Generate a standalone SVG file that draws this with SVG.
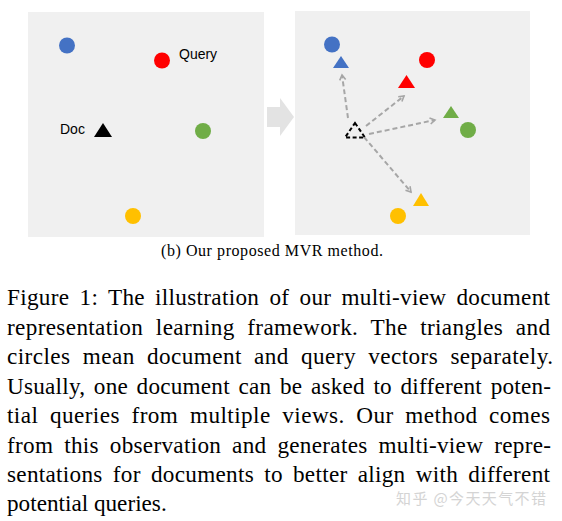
<svg xmlns="http://www.w3.org/2000/svg" width="562" height="521" viewBox="0 0 562 521">
<defs>
<style>
.panel{fill:#f0f0f0}
.lbl{font-family:"Liberation Sans",Arial,sans-serif;font-size:14px;fill:#000}
.cap{font-family:"Liberation Serif","Times New Roman",serif;fill:#000}
.body{font-size:23.2px}
.conn{stroke:#a6a6a6;stroke-width:2;stroke-dasharray:5 3;fill:none}
.blue{fill:#4472c4}.red{fill:#ff0000}.green{fill:#70ad47}.yellow{fill:#ffc000}
</style>
<marker id="ah" markerUnits="userSpaceOnUse" markerWidth="10" markerHeight="10" refX="6" refY="4" orient="auto">
<path d="M1,1 L6,4 L1,7" fill="none" stroke="#a6a6a6" stroke-width="1.6"/>
</marker>
</defs>
<rect width="562" height="521" fill="#fff"/>

<g id="panel-left">
<rect class="panel" x="28" y="12" width="236" height="225"/>
</g>
<g id="panel-right">
<rect class="panel" x="295" y="11" width="235" height="224"/>
</g>
<g id="transition-arrow">
<path d="M267,107 H280 V98 L294,117 L280,136 V127 H267 Z" fill="#e3e3e3"/>
</g>

<g id="left-blue-query"><circle class="blue" cx="67" cy="45.5" r="8"/></g>
<g id="left-red-query"><circle class="red" cx="162" cy="60.5" r="8"/><text class="lbl" x="179" y="59">Query</text></g>
<g id="left-doc"><text class="lbl" x="60" y="134">Doc</text><polygon points="103,123 112,137 94,137" fill="#000"/></g>
<g id="left-green-query"><circle class="green" cx="203" cy="131" r="8"/></g>
<g id="left-yellow-query"><circle class="yellow" cx="133" cy="216" r="8"/></g>

<g id="connectors">
<line class="conn" x1="348" y1="118" x2="342" y2="75" marker-end="url(#ah)"/>
<line class="conn" x1="366" y1="126" x2="404" y2="96" marker-end="url(#ah)"/>
<line class="conn" x1="369" y1="134" x2="435" y2="120" marker-end="url(#ah)"/>
<line class="conn" x1="364" y1="137" x2="411" y2="192" marker-end="url(#ah)"/>
</g>

<g id="right-doc-origin"><polygon points="355,123 365,137.5 345,137.5" fill="none" stroke="#000" stroke-width="2" stroke-dasharray="4 2.5"/></g>
<g id="right-blue"><circle class="blue" cx="332" cy="44.5" r="8"/><polygon class="blue" points="341,56 349,68 333,68"/></g>
<g id="right-red"><circle class="red" cx="427" cy="60" r="8"/><polygon class="red" points="406.5,75 415,88 398,88"/></g>
<g id="right-green"><circle class="green" cx="468" cy="130" r="8"/><polygon class="green" points="451,106 459,118 443,118"/></g>
<g id="right-yellow"><circle class="yellow" cx="398" cy="216" r="8"/><polygon class="yellow" points="421,193 429,206 413,206"/></g>

<text class="cap" x="161" y="256" font-size="16" textLength="222" lengthAdjust="spacing">(b) Our proposed MVR method.</text>

<g class="cap body">
<text x="7" y="305" word-spacing="4.1" textLength="543" lengthAdjust="spacing">Figure 1: The illustration of our multi-view document</text>
<text x="7" y="334.5" word-spacing="6.5" textLength="543" lengthAdjust="spacing">representation learning framework. The triangles and</text>
<text x="7" y="364" word-spacing="6" textLength="546" lengthAdjust="spacing">circles mean document and query vectors separately.</text>
<text x="7" y="393.5" word-spacing="2.6" textLength="544" lengthAdjust="spacing">Usually, one document can be asked to different poten-</text>
<text x="7" y="423" word-spacing="5.4" textLength="543" lengthAdjust="spacing">tial queries from multiple views. Our method comes</text>
<text x="7" y="452.5" word-spacing="4.8" textLength="544" lengthAdjust="spacing">from this observation and generates multi-view repre-</text>
<text x="7" y="482" word-spacing="4.1" textLength="543" lengthAdjust="spacing">sentations for documents to better align with different</text>
<text x="7" y="511">potential queries.</text>
</g>
<text x="396" y="504" font-family="'Noto Sans CJK SC',sans-serif" font-size="15" fill="#d4d4d4" textLength="150" lengthAdjust="spacing">知乎 @今天天气不错</text>
</svg>
